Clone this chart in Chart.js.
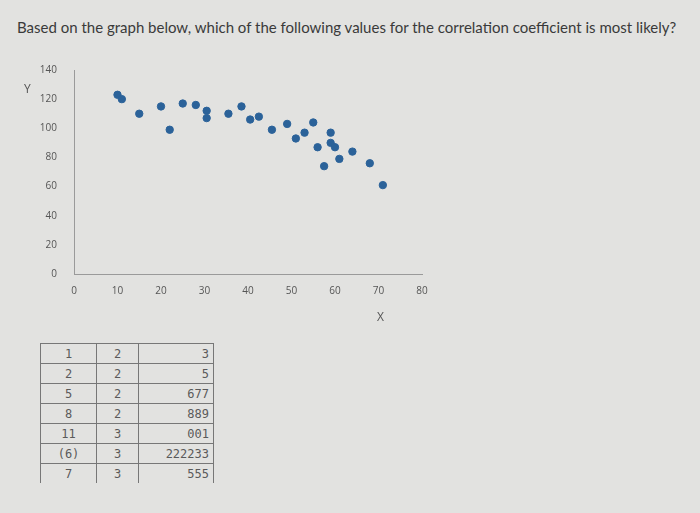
<!DOCTYPE html>
<html>
<head>
<meta charset="utf-8">
<script src="https://cdn.jsdelivr.net/npm/chart.js@4"></script>
<style>
  html, body { margin:0; padding:0; }
  body { width:700px; height:513px; background:#e2e2e0; position:relative; overflow:hidden; font-family:Lato, "Open Sans", sans-serif; }
  #title { position:absolute; left:17px; top:18px; font-size:15px; color:#3a3a3a; white-space:nowrap; letter-spacing:0px; }
  #wrap { position:absolute; left:0; top:0; width:700px; height:330px; }
  .axt { position:absolute; font-family:"Open Sans", sans-serif; font-size:12px; color:#555; }
  table { position:absolute; left:40px; top:343px; border-collapse:collapse; font-family:"DejaVu Sans Mono", monospace; font-size:12px; color:#5a5a5a; }
  td { border:1.5px solid #777; height:19px; padding:0 4px; }
  td.c1 { width:47px; text-align:center; }
  td.c2 { width:33px; text-align:center; }
  td.c3 { width:66px; text-align:right; }
  tr:last-child td { border-bottom:none; }
</style>
</head>
<body>
<div id="title">Based on the graph below, which of the following values for the correlation coefficient is most likely?</div>
<div id="wrap"><canvas id="c" width="700" height="330"></canvas></div>
<div class="axt" style="left:24px; top:80px;">Y</div>
<div class="axt" style="left:377px; top:308px;">X</div>
<table id="stem"></table>
<script>
// Scatter data
const xValues = [10, 11, 15, 20, 22, 25, 28, 30.5, 30.5, 35.5, 38.5, 40.5, 42.5, 45.5, 49, 51, 53, 55, 59, 59, 60, 56, 61, 57.5, 64, 68, 71];
const yValues = [123, 120, 110, 115, 99, 117, 116, 112, 107, 110, 115, 106, 108, 99, 103, 93, 97, 104, 97, 90, 87, 87, 79, 74, 84, 76, 61];
const xTicks = [0, 10, 20, 30, 40, 50, 60, 70, 80];
const yTicks = [0, 20, 40, 60, 80, 100, 120, 140];

// Stem-and-leaf table
const depths = ["1", "2", "5", "8", "11", "(6)", "7"];
const stems = ["2", "2", "2", "2", "3", "3", "3"];
const leaves = ["3", "5", "677", "889", "001", "222233", "555"];

const tbl = document.getElementById('stem');
depths.forEach((d, i) => {
  const tr = document.createElement('tr');
  [[d, 'c1'], [stems[i], 'c2'], [leaves[i], 'c3']].forEach(([t, c]) => {
    const td = document.createElement('td');
    td.className = c; td.textContent = t; tr.appendChild(td);
  });
  tbl.appendChild(tr);
});

const pts = xValues.map((x, i) => ({ x: x, y: yValues[i] }));

new Chart(document.getElementById('c'), {
  type: 'scatter',
  data: { datasets: [{ data: pts, backgroundColor: '#2b6299', borderColor: '#2b6299', pointRadius: 3.7, pointHoverRadius: 3.7 }] },
  options: {
    responsive: false, animation: false, maintainAspectRatio: false,
    plugins: { legend: { display: false }, tooltip: { enabled: false } },
    layout: { padding: { left: 24, right: 278, top: 70, bottom: 26 } },
    scales: {
      x: {
        type: 'linear', min: 0, max: 80,
        afterBuildTicks: s => { s.ticks = xTicks.map(v => ({ value: v })); },
        afterFit: s => { s.height = 30; },
        grid: { display: false, drawTicks: false },
        border: { display: true, color: '#9a9a9a', width: 1 },
        ticks: { padding: 11, color: '#555', font: { family: 'Open Sans', size: 10 } }
      },
      y: {
        type: 'linear', min: 0, max: 140,
        afterBuildTicks: s => { s.ticks = yTicks.map(v => ({ value: v })); },
        afterFit: s => { s.width = 50; },
        grid: { display: false, drawTicks: false },
        border: { display: true, color: '#9a9a9a', width: 1 },
        ticks: { padding: 17, color: '#555', font: { family: 'Open Sans', size: 10 } }
      }
    }
  }
});
</script>
</body>
</html>
